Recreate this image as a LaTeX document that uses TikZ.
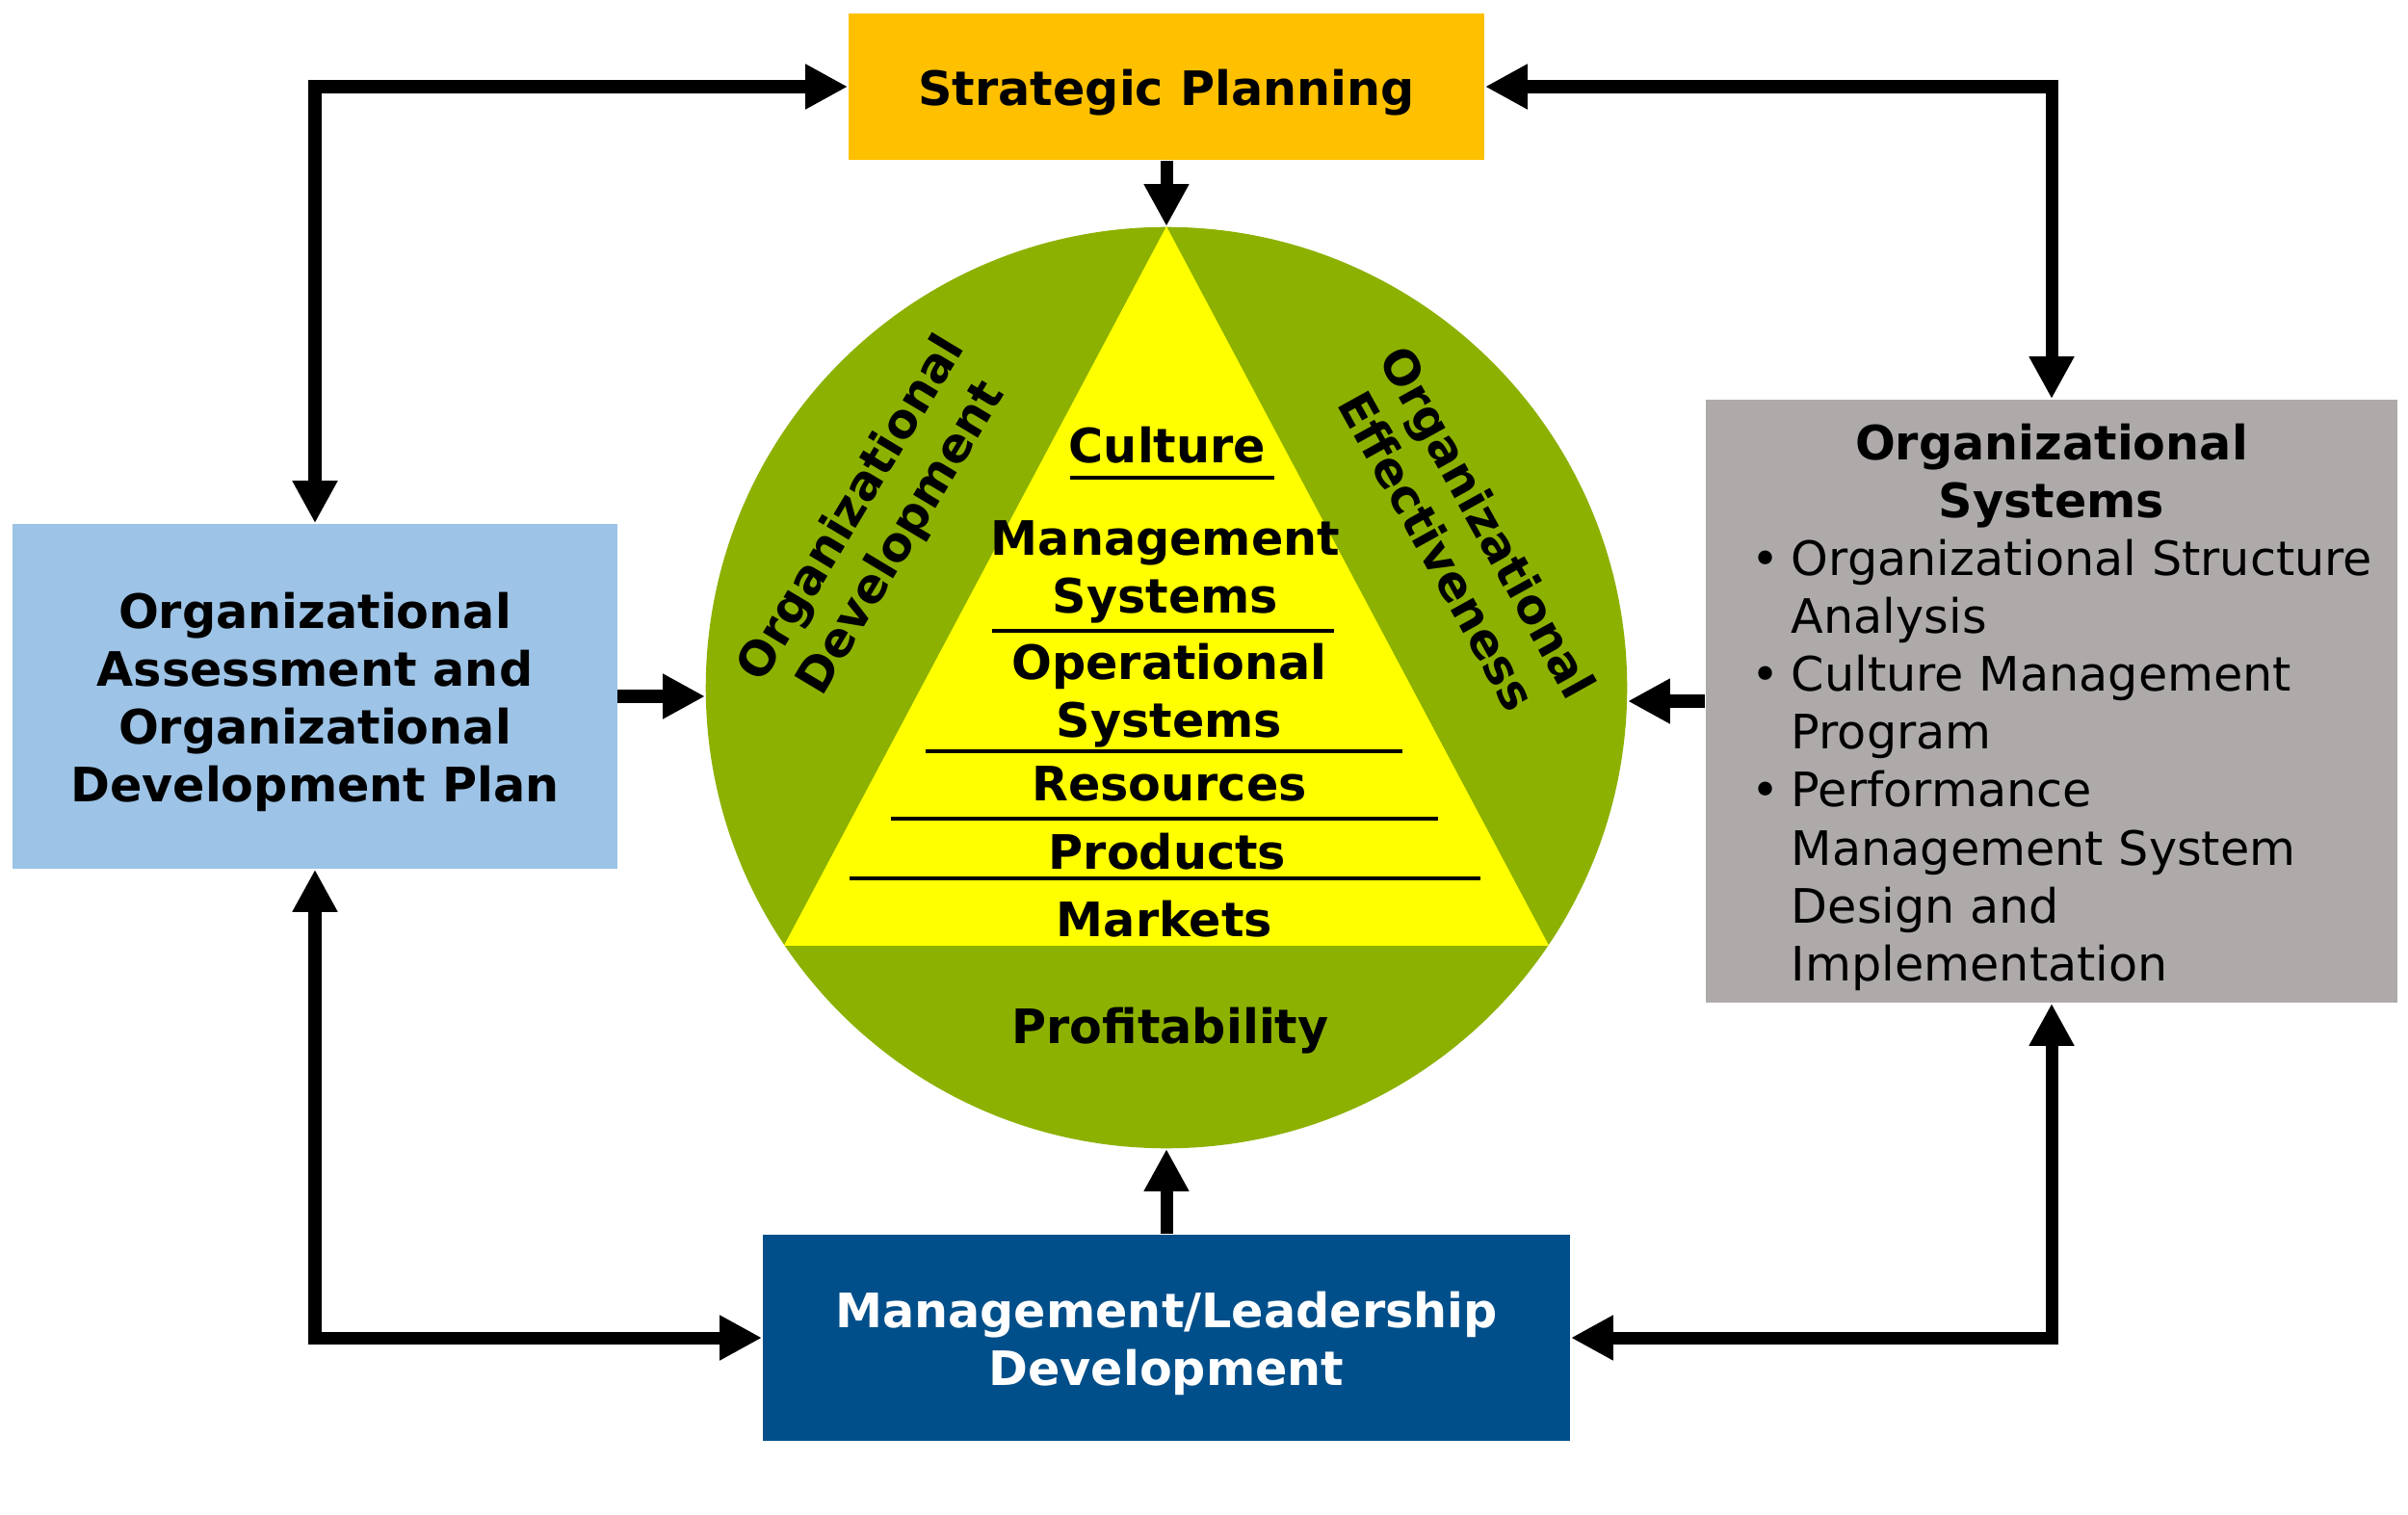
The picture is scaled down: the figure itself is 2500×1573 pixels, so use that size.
\documentclass[tikz,border=0pt]{standalone}
\usepackage{fontspec}
\setmainfont{DejaVu Sans}
\usetikzlibrary{arrows.meta}
\definecolor{planorange}{HTML}{FFC000}
\definecolor{assessblue}{HTML}{9DC3E6}
\definecolor{sysgray}{HTML}{AEAAAA}
\definecolor{leaddarkblue}{HTML}{004F8A}
\definecolor{circgreen}{RGB}{140,177,0}
\definecolor{pyryellow}{HTML}{FFFF00}
\newcommand{\liftline}{\rule{0pt}{14pt}}
\begin{document}
\begin{tikzpicture}[x=0.01cm, y=-0.01cm, >={Triangle[length=12.5pt,width=12.5pt]},
  every node/.style={font=\fontsize{14}{17.1}\selectfont\bfseries, align=center},
  box/.style={rectangle, inner sep=0pt},
  conn/.style={line width=3.7pt},
  layer/.style={line width=1pt}]
\useasboundingbox (0,0) rectangle (2500,1573);
\node[box, fill=planorange, minimum width=6.6cm, minimum height=1.52cm] (sp) at (1211,90) {\liftline Strategic Planning};
\node[box, fill=assessblue, minimum width=6.27cm, minimum height=3.58cm] (oa) at (327,723) {\liftline Organizational\\Assessment and\\Organizational\\Development Plan};
\node[box, fill=sysgray, minimum width=7.18cm, minimum height=6.26cm] (os) at (2130,728) {%
  \begin{minipage}{7.18cm}
  \vspace*{0.2cm}
  \centering Organizational\\Systems\par
  \raggedright\mdseries\hspace*{0.48cm}%
  \begin{tabular}[t]{@{}p{0.41cm}@{}l@{}}
  \textbullet & Organizational Structure\\
   & Analysis\\
  \textbullet & Culture Management\\
   & Program\\
  \textbullet & Performance\\
   & Management System\\
   & Design and\\
   & Implementation
  \end{tabular}\par
  \end{minipage}};
\node[box, fill=leaddarkblue, text=white, minimum width=8.38cm, minimum height=2.14cm] (ml) at (1211,1389) {\liftline Management/Leadership\\Development};
\node[circle, fill=circgreen, minimum size=9.56cm, inner sep=0pt] (circ) at (1211,714) {};
\fill[pyryellow] (circ.north) -- (circ.-146) -- (circ.-34) -- cycle;
\draw[layer] (1111,496) -- (1323,496);
\draw[layer] (1030,655) -- (1385,655);
\draw[layer] (961,780) -- (1456,780);
\draw[layer] (925,850) -- (1493,850);
\draw[layer] (882,912) -- (1537,912);
\node (cult) at (1212,462) {Culture};
\node (mgs) at (1210,594) {Management\\Systems};
\node (ops) at (1214,722) {Operational\\Systems};
\node (res) at (1214,814) {Resources};
\node (prod) at (1212,884) {Products};
\node (mkt) at (1209,954) {Markets};
\node (prof) at (1215,1070) {Profitability};
\node[rotate=59] (od) at (911,544) {Organizational\\Development};
\node[rotate=-61] (oe) at (1519,557) {Organizational\\Effectiveness};
\draw[conn, <->] (sp.west) -| (oa.north);
\draw[conn, <->] (sp.east) -| (os.north);
\draw[conn, <->] (oa.south) |- (ml.west);
\draw[conn, <->] (os.south) |- (ml.east);
\draw[conn, ->] (sp.south) -- (circ.north);
\draw[conn, ->] (ml.north) -- (circ.south);
\draw[conn, ->] (oa.east) -- (oa.east -| circ.west);
\draw[conn, ->] (os.west) -- (os.west -| circ.east);
\end{tikzpicture}
\end{document}
